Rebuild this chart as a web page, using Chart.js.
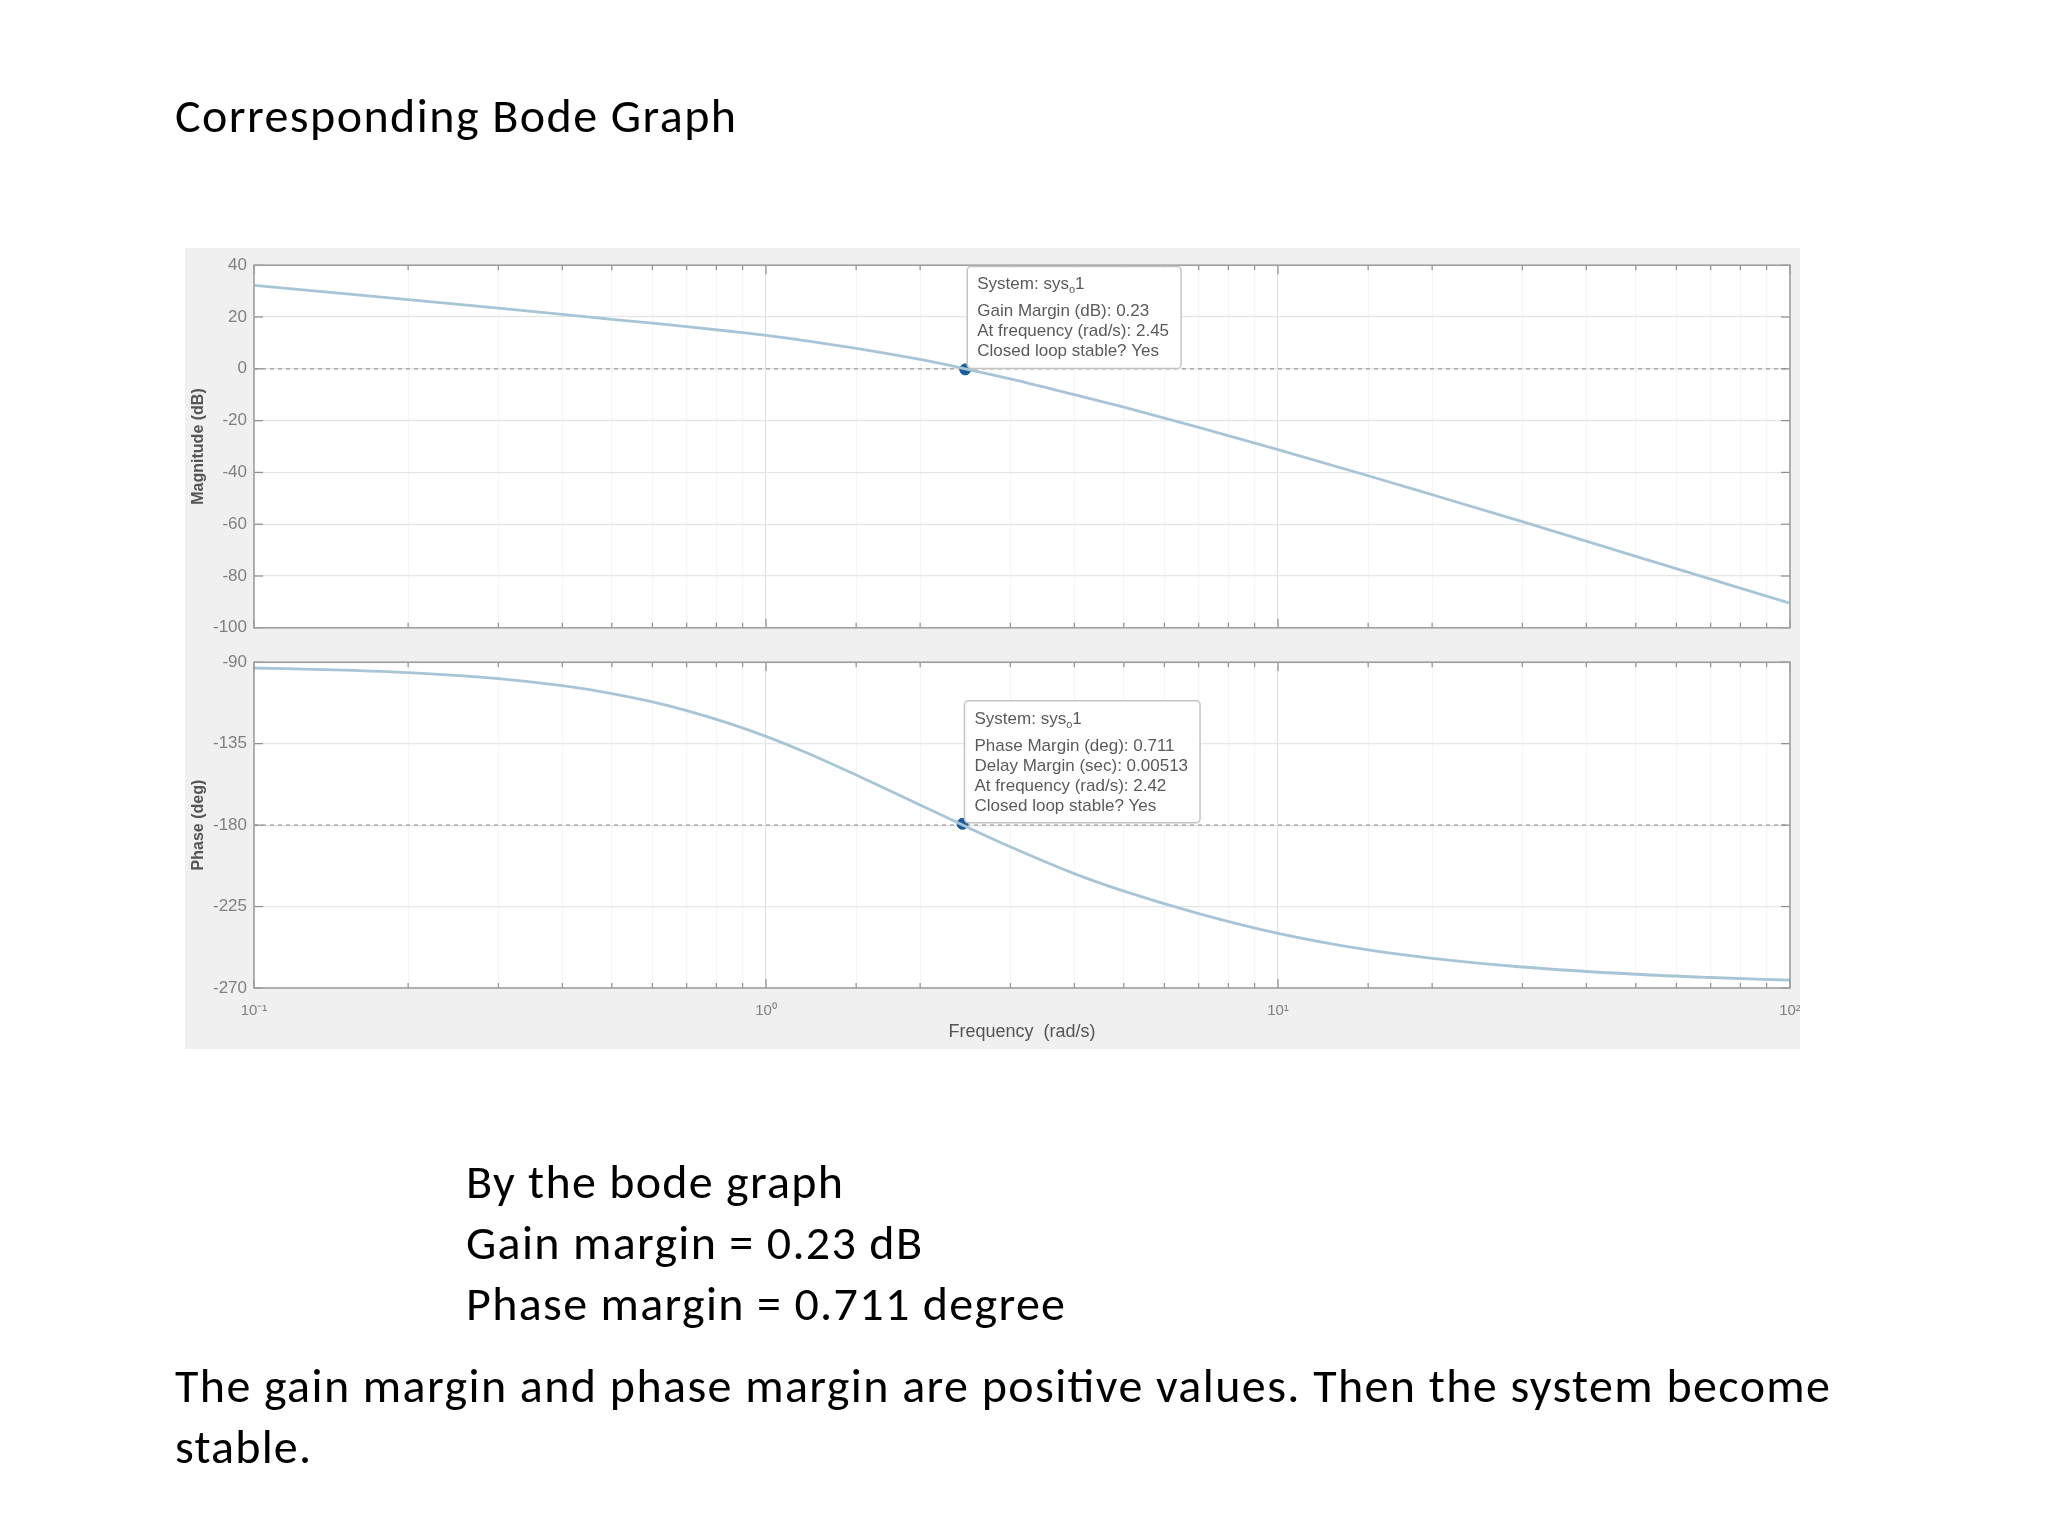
<!DOCTYPE html>
<html>
<head>
<meta charset="utf-8">
<script src="https://cdn.jsdelivr.net/npm/chart.js@4.4.1/dist/chart.umd.min.js"></script>
<style>
  html, body { margin: 0; padding: 0; background: #fff; }
  #page { position: relative; width: 2048px; height: 1536px; overflow: hidden; }
  #panel { position: absolute; left: 185px; top: 248px; width: 1615px; height: 801px; background: #f0f0f0; }
  canvas { position: absolute; }
  #magChart { left: 185px; top: 248px; }
  #phaseChart { left: 185px; top: 645px; }
  svg.slide { position: absolute; left: 0; top: 0; }
  svg.slide text { font-family: Calibri, Carlito, Lato, "Open Sans", sans-serif; font-size: 48px; fill: #000; }
</style>
</head>
<body>
<div id="page">
  <div id="panel"></div>
  <canvas id="magChart" width="1615" height="397"></canvas>
  <canvas id="phaseChart" width="1615" height="404"></canvas>
  <svg class="slide" width="2048" height="1536">
    <text x="175" y="132" textLength="561" lengthAdjust="spacing">Corresponding Bode Graph</text>
    <text x="466" y="1198" textLength="377" lengthAdjust="spacing">By the bode graph</text>
    <text x="466" y="1259" textLength="456" lengthAdjust="spacing">Gain margin = 0.23 dB</text>
    <text x="466" y="1320" textLength="599" lengthAdjust="spacing">Phase margin = 0.711 degree</text>
    <text x="175" y="1402" textLength="1655" lengthAdjust="spacing">The gain margin and phase margin are positive values. Then the system become</text>
    <text x="175" y="1463" textLength="136" lengthAdjust="spacing">stable.</text>
  </svg>
</div>
<script>
// values
const FREQ = [0.1, 0.15, 0.2, 0.3, 0.4, 0.5, 0.6, 0.7, 0.85, 1, 1.2, 1.5, 2, 2.45, 3, 4, 5, 7, 10, 15, 20, 30, 50, 70, 100];
const MAG_DB = [32.2, 29.0, 26.7, 23.4, 21.0, 19.1, 17.6, 16.3, 14.5, 12.9, 10.8, 7.9, 3.6, 0, -3.9, -10.0, -14.8, -22.6, -31.2, -41.3, -48.6, -59.0, -72.4, -81.2, -90.5];
const PHASE_DEG = [-93.2, -94.4, -95.8, -99.1, -103.0, -107.3, -111.9, -116.7, -123.9, -131.0, -140.0, -152.3, -168.9, -180.6, -192.0, -206.8, -216.5, -228.9, -239.8, -249.0, -253.6, -258.4, -262.4, -264.2, -265.7];

const MAG_TICKS = { min: -100, max: 40, step: 20 };
const PHASE_TICKS = { min: -270, max: -90, step: 45 };
const FREQ_RANGE = { min: 0.1, max: 100 };

const GM_POINT = { freq: 2.45, db: -0.23 };
const PM_POINT = { freq: 2.42, deg: -179.29 };

const GM_TIP = ['System: sys_o1', 'Gain Margin (dB): 0.23', 'At frequency (rad/s): 2.45', 'Closed loop stable? Yes'];
const PM_TIP = ['System: sys_o1', 'Phase Margin (deg): 0.711', 'Delay Margin (sec): 0.00513', 'At frequency (rad/s): 2.42', 'Closed loop stable? Yes'];

const LINE_COLOR = '#a8c5d7';
const DOT_COLOR = '#1c5d99';
const FONT = '"Liberation Sans", Arial, Helvetica, sans-serif';

Chart.defaults.font.family = FONT;

const SUP = { '-': '\u207b', '0': '\u2070', '1': '\u00b9', '2': '\u00b2', '3': '\u00b3' };

function isDecade(v) {
  var l = Math.log10(v);
  return Math.abs(l - Math.round(l)) < 1e-6;
}

function decadeLabel(v) {
  if (!isDecade(v)) return '';
  var e = String(Math.round(Math.log10(v)));
  return '10' + e.split('').map(function (c) { return SUP[c]; }).join('');
}

function strokeLine(ctx, x1, y1, x2, y2) {
  ctx.beginPath();
  ctx.moveTo(x1, y1);
  ctx.lineTo(x2, y2);
  ctx.stroke();
}

// white axes area, dashed margin line, box frame with inward ticks (MATLAB look)
const bodeFrame = {
  id: 'bodeFrame',
  beforeDraw(chart) {
    var a = chart.chartArea, ctx = chart.ctx;
    ctx.save();
    ctx.fillStyle = '#ffffff';
    ctx.fillRect(a.left, a.top, a.right - a.left, a.bottom - a.top);
    ctx.restore();
  },
  beforeDatasetsDraw(chart, args, opts) {
    var a = chart.chartArea, ctx = chart.ctx;
    var y = chart.scales.y.getPixelForValue(opts.crossAt);
    ctx.save();
    ctx.strokeStyle = '#a8a8a8';
    ctx.lineWidth = 1.5;
    ctx.setLineDash([4, 4]);
    strokeLine(ctx, a.left, y, a.right, y);
    ctx.restore();
  },
  afterDraw(chart) {
    var a = chart.chartArea, ctx = chart.ctx;
    var xs = chart.scales.x, ys = chart.scales.y;
    ctx.save();
    ctx.strokeStyle = '#8e8e8e';
    ctx.lineWidth = 1.2;
    xs.ticks.forEach(function (t) {
      var px = xs.getPixelForValue(t.value);
      var len = isDecade(t.value) ? 9 : 5;
      strokeLine(ctx, px, a.top, px, a.top + len);
      strokeLine(ctx, px, a.bottom, px, a.bottom - len);
    });
    ys.ticks.forEach(function (t) {
      var py = ys.getPixelForValue(t.value);
      strokeLine(ctx, a.left, py, a.left + 9, py);
      strokeLine(ctx, a.right, py, a.right - 9, py);
    });
    ctx.strokeStyle = '#a0a0a0';
    ctx.lineWidth = 1.6;
    ctx.strokeRect(a.left, a.top, a.right - a.left, a.bottom - a.top);
    ctx.restore();
  },
};

function tipParts(text) {
  // "sys_o1" -> subscript o
  return text.split(/_(.)/).map(function (p, i) { return { text: p, sub: i % 2 === 1 }; });
}

function tipWidth(ctx, text) {
  var w = 0;
  tipParts(text).forEach(function (p) {
    ctx.font = (p.sub ? 11 : 17) + 'px ' + FONT;
    w += ctx.measureText(p.text).width;
  });
  return w;
}

function drawTipText(ctx, text, x, y) {
  var cx = x;
  tipParts(text).forEach(function (p) {
    ctx.font = (p.sub ? 11 : 17) + 'px ' + FONT;
    ctx.fillText(p.text, cx, p.sub ? y + 6 : y);
    cx += ctx.measureText(p.text).width;
  });
}

// MATLAB data tip anchored at the margin marker
const dataTip = {
  id: 'dataTip',
  afterDraw(chart, args, opts) {
    var pt = chart.getDatasetMeta(opts.datasetIndex).data[0];
    if (!pt) return;
    var ctx = chart.ctx;
    var lines = opts.lines;
    var w = 0;
    lines.forEach(function (l) { w = Math.max(w, tipWidth(ctx, l)); });
    w += 22;
    var h = 45 + (lines.length - 2) * 20 + 17;
    var left = pt.x + 2, bottom = pt.y - 1, top = bottom - h;
    ctx.save();
    ctx.beginPath();
    ctx.roundRect(left, top, w, h, 4);
    ctx.fillStyle = 'rgba(255,255,255,0.95)';
    ctx.fill();
    ctx.strokeStyle = '#c4c4c4';
    ctx.lineWidth = 1.5;
    ctx.stroke();
    ctx.fillStyle = '#5a5a5a';
    ctx.textBaseline = 'middle';
    lines.forEach(function (l, i) {
      var cy = top + (i === 0 ? 18 : 45 + (i - 1) * 20);
      drawTipText(ctx, l, left + 10, cy);
    });
    ctx.restore();
  },
};

function xScale(showLabels) {
  return {
    type: 'logarithmic',
    min: FREQ_RANGE.min,
    max: FREQ_RANGE.max,
    border: { display: false },
    grid: {
      drawTicks: false,
      color: function (c) { return c.tick && isDecade(c.tick.value) ? '#e3e3e3' : '#f5f5f5'; },
      lineWidth: 1.2,
    },
    ticks: {
      display: showLabels,
      autoSkip: false,
      maxRotation: 0,
      padding: 14,
      color: '#808080',
      font: { size: 15 },
      callback: function (v) { return decadeLabel(v); },
    },
    title: {
      display: showLabels,
      text: 'Frequency  (rad/s)',
      color: '#555555',
      font: { size: 18 },
      padding: { top: 0, bottom: 6 },
    },
    afterFit: function (s) {
      s.height = showLabels ? 61 : 0;
      // keep the end labels from shrinking the plot area
      s.paddingLeft = 0;
      s.paddingRight = 0;
    },
  };
}

function yScale(range, title) {
  return {
    min: range.min,
    max: range.max,
    border: { display: false },
    grid: { drawTicks: false, color: '#e6e6e6', lineWidth: 1.2 },
    ticks: { stepSize: range.step, padding: 7, color: '#808080', font: { size: 17 } },
    title: { display: true, text: title, color: '#555555', font: { size: 16, weight: 'bold' }, padding: { top: 4, bottom: 4 } },
    afterFit: function (s) { s.width = 69; },
  };
}

function points(ys) {
  return FREQ.map(function (f, i) { return { x: f, y: ys[i] }; });
}

function bodeChart(canvasId, curve, marker, yRange, yTitle, showX, crossAt, tipLines, padTop) {
  return new Chart(document.getElementById(canvasId), {
    type: 'line',
    data: {
      datasets: [
        {
          data: curve,
          borderColor: LINE_COLOR,
          borderWidth: 2.8,
          pointRadius: 0,
          cubicInterpolationMode: 'monotone',
        },
        {
          data: [marker],
          showLine: false,
          pointRadius: 5.5,
          pointBackgroundColor: DOT_COLOR,
          pointBorderColor: DOT_COLOR,
        },
      ],
    },
    options: {
      responsive: false,
      animation: false,
      events: [],
      layout: { padding: { top: padTop, right: 10, bottom: showX ? 0 : 8, left: 0 } },
      scales: { x: xScale(showX), y: yScale(yRange, yTitle) },
      plugins: {
        legend: { display: false },
        tooltip: { enabled: false },
        bodeFrame: { crossAt: crossAt },
        dataTip: { datasetIndex: 1, lines: tipLines },
      },
    },
    plugins: [bodeFrame, dataTip],
  });
}

bodeChart('magChart', points(MAG_DB), { x: GM_POINT.freq, y: GM_POINT.db },
  MAG_TICKS, 'Magnitude (dB)', false, 0, GM_TIP, 9);
bodeChart('phaseChart', points(PHASE_DEG), { x: PM_POINT.freq, y: PM_POINT.deg },
  PHASE_TICKS, 'Phase (deg)', true, -180, PM_TIP, 8);
</script>
</body>
</html>
